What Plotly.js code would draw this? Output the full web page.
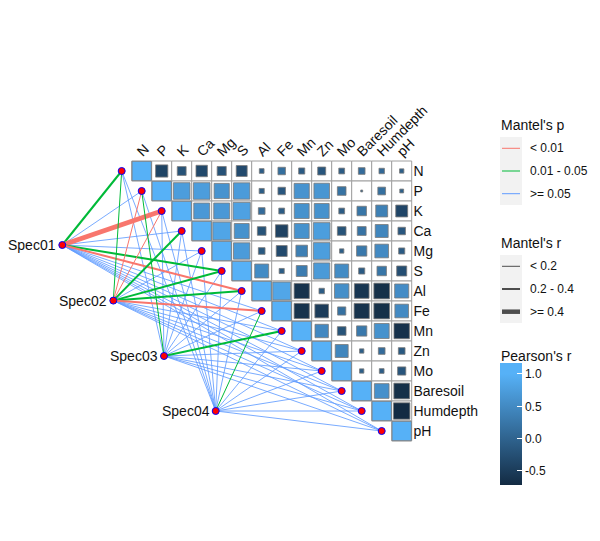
<!DOCTYPE html>
<html><head><meta charset="utf-8">
<script src="https://cdn.plot.ly/plotly-3.0.1.min.js"></script>
<style>html,body{margin:0;padding:0;background:#fff}#chart{width:600px;height:541px}</style>
</head><body><div id="chart"></div>
<script>
// ---------- data ----------
const variables = ['N','P','K','Ca','Mg','S','Al','Fe','Mn','Zn','Mo','Baresoil','Humdepth','pH'];
// Pearson's r, upper triangle: values to the right of the diagonal, row by row
const corN        = [-0.40,-0.21,-0.35,-0.22,-0.32,-0.06,0.15,-0.10,-0.17,-0.09,0.12,0.08,-0.05];
const corP        = [0.74,0.74,0.62,0.72,-0.07,-0.15,0.62,0.65,0.20,-0.01,0.16,-0.04];
const corK        = [0.68,0.68,0.80,0.12,-0.09,0.60,0.60,-0.09,0.24,0.38,-0.38];
const corCa       = [0.85,0.60,-0.20,-0.42,0.60,0.75,-0.20,0.21,0.45,-0.15];
const corMg       = [0.72,-0.12,-0.32,0.36,0.75,-0.05,0.28,0.50,-0.10];
const corS        = [0.52,-0.07,0.32,0.70,0.52,-0.10,0.24,-0.27];
const corAl       = [0.86,-0.62,-0.08,0.56,-0.58,-0.66,0.53];
const corFe       = [-0.62,-0.50,0.18,-0.62,-0.66,0.50];
const corMn       = [0.48,-0.20,0.28,0.60,-0.64];
const corZn       = [0.45,-0.05,0.12,-0.12];
const corMo       = [-0.05,-0.06,-0.18];
const corBaresoil = [0.58,-0.66];
const corHumdepth = [-0.72];
const corRows = [corN,corP,corK,corCa,corMg,corS,corAl,corFe,corMn,corZn,corMo,corBaresoil,corHumdepth,[]];

// Mantel tests: one value per variable (same order as `variables`)
const specs = ['Spec01','Spec02','Spec03','Spec04'];
const mantelP01 = [0.03,0.25,0.001,0.18,0.35,0.02,0.004,0.60,0.50,0.70,0.40,0.45,0.55,0.30];
const mantelR01 = [0.26,0.08,0.52,0.10,0.05,0.24,0.23,0.02,0.03,0.01,0.05,0.04,0.03,0.07];
const mantelP02 = [0.04,0.008,0.005,0.02,0.12,0.03,0.02,0.006,0.30,0.50,0.60,0.40,0.35,0.20];
const mantelR02 = [0.15,0.17,0.18,0.28,0.09,0.24,0.25,0.27,0.05,0.02,0.01,0.04,0.05,0.08];
const mantelP03 = [0.30,0.04,0.20,0.40,0.50,0.15,0.30,0.25,0.03,0.60,0.70,0.30,0.40,0.50];
const mantelR03 = [0.05,0.15,0.08,0.03,0.02,0.10,0.06,0.07,0.22,0.01,0.00,0.05,0.04,0.02];
const mantelP04 = [0.50,0.40,0.30,0.60,0.70,0.40,0.20,0.045,0.30,0.50,0.60,0.20,0.30,0.40];
const mantelR04 = [0.02,0.03,0.05,0.01,0.00,0.03,0.10,0.16,0.06,0.02,0.01,0.09,0.07,0.05];
const mantelP = [mantelP01,mantelP02,mantelP03,mantelP04];
const mantelR = [mantelR01,mantelR02,mantelR03,mantelR04];

const pLabels = ['< 0.01','0.01 - 0.05','>= 0.05'];
const rLabels = ['< 0.2','0.2 - 0.4','>= 0.4'];
const cbTicks = [1.0,0.5,0.0,-0.5];
const cbTickText = ['1.0','0.5','0.0','-0.5'];

// ---------- layout constants (not data) ----------
const W=600,H=541,X0=141.7,Y0=171,U=20;
const specPos = [[-3.97,3.7],[-1.42,6.48],[1.115,9.25],[3.7,12.0]];
const pColors = ['#F8766D','#00BA38','#619CFF'];
const rWidths = [1,2,5];
const FONT = 'Liberation Sans, Arial, sans-serif';
const CMIN = -0.72, CMAX = 1;
const LOW = '#132B43', HIGH = '#56B1F7';
const px = x => x/W, py = y => 1 - y/H;
const pClass = p => p < 0.01 ? 0 : (p < 0.05 ? 1 : 2);
const rClass = r => r < 0.2 ? 0 : (r < 0.4 ? 1 : 2);

const n = variables.length;
const idx = variables.map((_,i)=>i);
const traces = [];
const shapes = [];
const annotations = [];

// grid cells (upper triangle)
for (let i=0;i<n;i++) for (let j=i;j<n;j++) {
  shapes.push({type:'rect',xref:'x',yref:'y',x0:j-0.5,x1:j+0.5,y0:i-0.5,y1:i+0.5,
    fillcolor:'#ffffff',line:{color:'#a0a0a0',width:1},layer:'below'});
}

// links: blue first, then coloured
const links = [];
for (let s=0;s<specs.length;s++) for (let v=0;v<n;v++) {
  links.push({s,v,pc:pClass(mantelP[s][v]),rc:rClass(mantelR[s][v])});
}
links.sort((a,b)=> (b.pc===2) - (a.pc===2));
links.forEach(l=>{
  traces.push({type:'scatter',mode:'lines',x:[specPos[l.s][0], l.v-1],y:[specPos[l.s][1], l.v],
    line:{color:pColors[l.pc],width:rWidths[l.rc]},opacity:l.pc===2?0.85:1,
    hoverinfo:'skip',showlegend:false});
});

// correlation squares
const sx=[],sy=[],sr=[],ss=[];
for (let i=0;i<n;i++) {
  sx.push(i); sy.push(i); sr.push(1); ss.push(19.3);
  corRows[i].forEach((r,k)=>{ const j=i+1+k; sx.push(j); sy.push(i); sr.push(r); ss.push(19.3*Math.sqrt(Math.abs(r))); });
}
traces.push({type:'scatter',mode:'markers',x:sx,y:sy,hoverinfo:'skip',showlegend:false,
  marker:{symbol:'square',size:ss,color:sr,cmin:CMIN,cmax:CMAX,opacity:1,
    colorscale:[[0,LOW],[1,HIGH]],line:{color:'#787878',width:0.8},showscale:false}});

// colour bar (legend for Pearson's r); the bar runs a little past the limits as in ggplot
const cbLo = -0.717, cbHi = 1.17;
traces.push({type:'scatter',mode:'markers',x:[null],y:[null],hoverinfo:'skip',showlegend:false,
  marker:{color:[cbLo,cbHi],cmin:cbLo,cmax:cbHi,opacity:0,
    colorscale:[[0,LOW],[(CMAX-cbLo)/(cbHi-cbLo),HIGH],[1,HIGH]],showscale:true,
    colorbar:{thickness:22,thicknessmode:'pixels',len:122,lenmode:'pixels',
      x:px(500),xanchor:'left',xpad:0,y:py(363),yanchor:'top',ypad:0,
      tickmode:'array',tickvals:cbTicks,ticktext:cbTickText,ticks:'inside',ticklen:5,tickcolor:'#ffffff',
      outlinewidth:0,tickfont:{size:12,family:FONT,color:'#111'}}}});
annotations.push({xref:'paper',yref:'paper',x:px(499),y:py(356),text:"Pearson's r",showarrow:false,xanchor:'left',yanchor:'middle',
  font:{size:14,family:FONT,color:'#111'}});

// nodes
traces.push({type:'scatter',mode:'markers',x:idx.map(i=>i-1),y:idx,hoverinfo:'skip',showlegend:false,
  marker:{size:7,color:'#FF0000',opacity:1,line:{color:'#0000FF',width:1}}});
traces.push({type:'scatter',mode:'markers',x:specPos.map(p=>p[0]),y:specPos.map(p=>p[1]),hoverinfo:'skip',showlegend:false,
  marker:{size:7,color:'#FF0000',opacity:1,line:{color:'#0000FF',width:1}}});

// spec labels
specs.forEach((s,k)=>annotations.push({xref:'x',yref:'y',x:specPos[k][0]-0.2,y:specPos[k][1],text:s,showarrow:false,
  xanchor:'right',yanchor:'middle',font:{size:14,family:FONT,color:'#111'}}));

// manual legends
function legendBlock(title, ty, labels, colors, widths) {
  annotations.push({xref:'paper',yref:'paper',x:px(499),y:py(ty),text:title,showarrow:false,xanchor:'left',yanchor:'middle',
    font:{size:14,family:FONT,color:'#111'}});
  const top = ty+12;
  shapes.push({type:'rect',xref:'paper',yref:'paper',x0:px(500),x1:px(522),y0:py(top),y1:py(top+68),fillcolor:'#F2F2F2',line:{width:0}});
  labels.forEach((lab,k)=>{
    const yc = top + 11.3 + k*22.7;
    shapes.push({type:'line',xref:'paper',yref:'paper',x0:px(502),x1:px(520),y0:py(yc),y1:py(yc),line:{color:colors[k],width:widths[k]}});
    annotations.push({xref:'paper',yref:'paper',x:px(528),y:py(yc),text:lab,showarrow:false,xanchor:'left',yanchor:'middle',
      font:{size:12,family:FONT,color:'#111'}});
  });
}
legendBlock("Mantel's p",125,pLabels,pColors,[1,1,1]);
legendBlock("Mantel's r",243,rLabels,['#4d4d4d','#4d4d4d','#4d4d4d'],[1,2,4.5]);

const layout = {
  width:W,height:H,margin:{l:0,r:0,t:0,b:0},paper_bgcolor:'#fff',plot_bgcolor:'rgba(0,0,0,0)',
  font:{family:FONT},showlegend:false,
  xaxis:{range:[-X0/U,(W-X0)/U],showgrid:false,zeroline:false,showline:false,side:'top',anchor:'free',position:py(162),
    tickmode:'array',tickvals:idx,ticktext:variables,tickangle:-45,ticks:'',ticklabelshift:-4,
    tickfont:{size:14,family:FONT,color:'#111'},fixedrange:true,automargin:false},
  yaxis:{range:[(H-Y0)/U,-Y0/U],showgrid:false,zeroline:false,showline:false,side:'right',anchor:'free',position:px(412.5),
    tickmode:'array',tickvals:idx,ticktext:variables,ticks:'',tickfont:{size:14,family:FONT,color:'#111'},
    fixedrange:true,automargin:false},
  shapes,annotations
};
Plotly.newPlot('chart',traces,layout,{staticPlot:true,displayModeBar:false});
</script></body></html>
